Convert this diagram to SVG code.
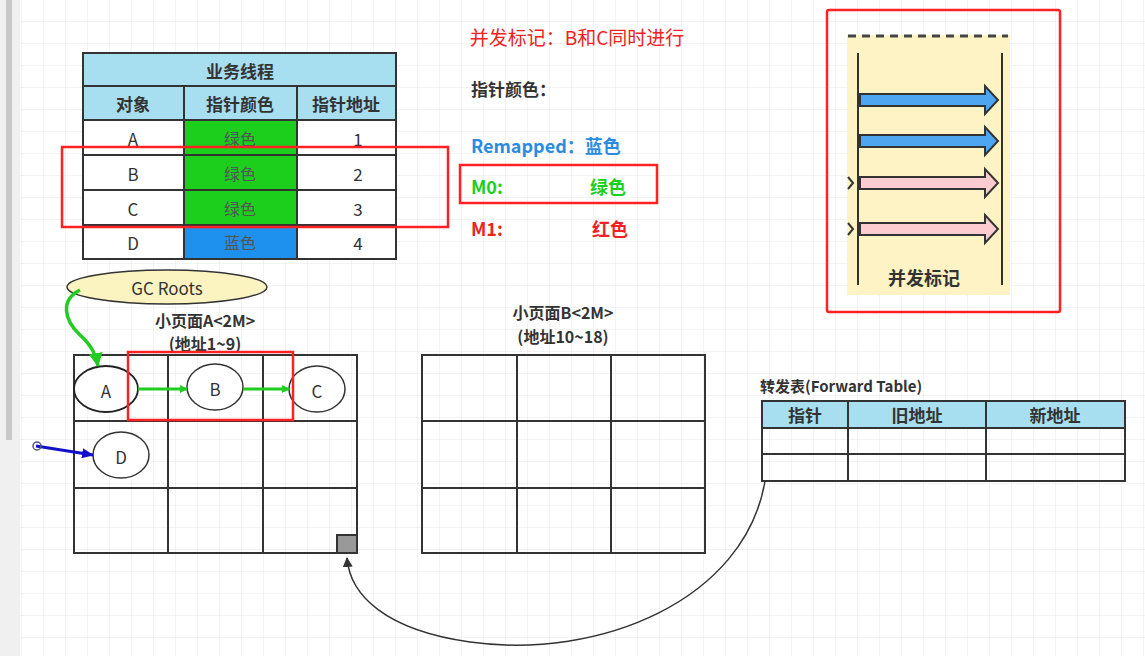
<svg xmlns="http://www.w3.org/2000/svg" width="1145" height="656" viewBox="0 0 1145 656">
<style>
text{font-family:"Noto Sans CJK SC","Noto Sans",sans-serif;}
.c{fill:#fff;stroke:#333;stroke-width:2}
.t{font-size:17px;fill:#333;text-anchor:middle;dominant-baseline:central}
.b{font-weight:bold}
.g{stroke:#333;stroke-width:2;fill:none}
.red{fill:none;stroke:#f22;stroke-width:2.5}
</style>
<defs>
<pattern id="grid" width="22" height="22" patternUnits="userSpaceOnUse"><path d="M22 0V22H0" fill="none" stroke="#e6e6e6" stroke-width="1"/></pattern>
<marker id="ag" markerWidth="8" markerHeight="8" refX="7" refY="4" orient="auto" markerUnits="userSpaceOnUse"><path d="M0 0L8 4L0 8Z" fill="#2c2"/></marker>
<marker id="ab" markerWidth="12" markerHeight="10" refX="11" refY="5" orient="auto" markerUnits="userSpaceOnUse"><path d="M0 0L12 5L0 10Z" fill="#11c"/></marker>
<marker id="ak" markerWidth="10" markerHeight="10" refX="9" refY="5" orient="auto" markerUnits="userSpaceOnUse"><path d="M0 0L10 5L0 10Z" fill="#333"/></marker>
<marker id="agr" markerWidth="14" markerHeight="14" refX="13" refY="7" orient="auto" markerUnits="userSpaceOnUse"><path d="M0 0L14 7L0 14Z" fill="#2c2"/></marker>
</defs>
<rect width="1145" height="656" fill="#fff"/>
<rect x="20" y="0" width="1125" height="656" fill="url(#grid)"/>
<rect x="0" y="0" width="20" height="656" fill="#f0f0f0"/>
<rect x="6" y="0" width="6" height="440" fill="#c8c8c8"/>

<g id="thread-table">
<rect x="83" y="53" width="313" height="33" fill="#a8dff0" stroke="#333" stroke-width="2"/>
<text x="240" y="70" class="t b">业务线程</text>
<rect x="83" y="86" width="101" height="34" fill="#a8dff0" stroke="#333" stroke-width="2"/>
<rect x="184" y="86" width="113" height="34" fill="#a8dff0" stroke="#333" stroke-width="2"/>
<rect x="297" y="86" width="99" height="34" fill="#a8dff0" stroke="#333" stroke-width="2"/>
<text x="133" y="103" class="t b">对象</text><text x="240" y="103" class="t b">指针颜色</text><text x="346" y="103" class="t b">指针地址</text>
<rect x="83" y="120" width="101" height="35" class="c"/><rect x="184" y="120" width="113" height="35" fill="#1ccf1c" stroke="#333" stroke-width="2"/><rect x="297" y="120" width="99" height="35" class="c"/>
<rect x="83" y="155" width="101" height="35" class="c"/><rect x="184" y="155" width="113" height="35" fill="#1ccf1c" stroke="#333" stroke-width="2"/><rect x="297" y="155" width="99" height="35" class="c"/>
<rect x="83" y="190" width="101" height="35" class="c"/><rect x="184" y="190" width="113" height="35" fill="#1ccf1c" stroke="#333" stroke-width="2"/><rect x="297" y="190" width="99" height="35" class="c"/>
<rect x="83" y="225" width="101" height="34" class="c"/><rect x="184" y="225" width="113" height="34" fill="#1e90ee" stroke="#333" stroke-width="2"/><rect x="297" y="225" width="99" height="34" class="c"/>
<text x="133" y="138" class="t">A</text><text x="240" y="138" class="t" style="fill:#555;font-size:16px">绿色</text><text x="358" y="138" class="t">1</text>
<text x="133" y="173" class="t">B</text><text x="240" y="173" class="t" style="fill:#555;font-size:16px">绿色</text><text x="358" y="173" class="t">2</text>
<text x="133" y="208" class="t">C</text><text x="240" y="208" class="t" style="fill:#555;font-size:16px">绿色</text><text x="358" y="208" class="t">3</text>
<text x="133" y="242" class="t">D</text><text x="240" y="242" class="t" style="fill:#555;font-size:16px">蓝色</text><text x="358" y="242" class="t">4</text>
<rect x="62" y="147" width="386" height="80" class="red"/>
</g>

<g id="legend">
<text x="577" y="36" class="t" style="fill:#e22;font-size:19px">并发标记：B和C同时进行</text>
<text x="471" y="88" style="font-size:17px;font-weight:bold;fill:#333" dominant-baseline="central">指针颜色：</text>
<text x="471" y="145" style="font-size:18px;font-weight:bold;fill:#2a8be0" dominant-baseline="central">Remapped：蓝色</text>
<text x="471" y="186" style="font-size:18px;font-weight:bold;fill:#1ccf1c" dominant-baseline="central">M0:</text>
<text x="590" y="186" style="font-size:18px;font-weight:bold;fill:#1ccf1c" dominant-baseline="central">绿色</text>
<rect x="460" y="165" width="197" height="38" class="red"/>
<text x="471" y="228" style="font-size:18px;font-weight:bold;fill:#e22" dominant-baseline="central">M1:</text>
<text x="592" y="228" style="font-size:18px;font-weight:bold;fill:#e22" dominant-baseline="central">红色</text>
</g>

<g id="concurrent-mark">
<rect x="847" y="35" width="163" height="260" fill="#fdf3c4"/>
<line x1="848" y1="36" x2="1008" y2="36" stroke="#444" stroke-width="3" stroke-dasharray="8,6"/>
<line x1="858" y1="53" x2="858" y2="285" stroke="#333" stroke-width="2"/>
<line x1="1002" y1="53" x2="1002" y2="285" stroke="#333" stroke-width="2"/>
<path d="M860 94H985V86L998 100L985 114V106H860Z" fill="#4ea6f0" stroke="#333" stroke-width="2"/>
<path d="M860 135H985V127L998 141L985 155V147H860Z" fill="#4ea6f0" stroke="#333" stroke-width="2"/>
<path d="M860 177H985V169L998 183L985 197V189H860Z" fill="#fcccd0" stroke="#333" stroke-width="2"/>
<path d="M860 223H985V215L998 229L985 243V235H860Z" fill="#fcccd0" stroke="#333" stroke-width="2"/>
<path d="M848 177L853 183L848 189" fill="none" stroke="#333" stroke-width="2"/>
<path d="M848 223L853 229L848 235" fill="none" stroke="#333" stroke-width="2"/>
<text x="924" y="277" class="t b" style="font-size:18px">并发标记</text>
<rect x="827" y="10" width="233" height="302" class="red" rx="2"/>
</g>

<g id="gc-roots">
<ellipse cx="167" cy="287" rx="100" ry="17" fill="#fbf4c0" stroke="#333" stroke-width="1.5"/>
<text x="167" y="287" class="t">GC Roots</text>
</g>

<g id="page-a">
<text x="205" y="320" class="t b" style="font-size:16px">小页面A&lt;2M&gt;</text>
<text x="205" y="343" class="t b" style="font-size:16px">(地址1~9)</text>
<rect x="74" y="355" width="283" height="198" class="g"/>
<path d="M168 355V553M263 355V553M74 421H357M74 488H357" class="g"/>
<rect x="337" y="535" width="20" height="18" fill="#999" stroke="#333" stroke-width="2"/>
</g>
<g id="node-a"><ellipse cx="106" cy="389" rx="32" ry="23" fill="#fff" stroke="#222" stroke-width="1.8"/><text x="106" y="390" class="t">A</text></g>
<g id="node-b"><ellipse cx="215" cy="387" rx="28" ry="23" fill="#fff" stroke="#333" stroke-width="1.5"/><text x="215" y="388" class="t">B</text></g>
<g id="node-c"><ellipse cx="317" cy="389" rx="28" ry="23" fill="#fff" stroke="#333" stroke-width="1.5"/><text x="317" y="390" class="t">C</text></g>
<g id="node-d"><ellipse cx="121" cy="455" rx="28" ry="23" fill="#fff" stroke="#333" stroke-width="1.5"/><text x="121" y="456" class="t">D</text></g>
<rect x="128" y="352" width="165" height="68" class="red"/>

<g id="page-b">
<text x="563" y="312" class="t b" style="font-size:16px">小页面B&lt;2M&gt;</text>
<text x="563" y="336" class="t b" style="font-size:16px">(地址10~18)</text>
<rect x="422" y="355" width="283" height="198" class="g"/>
<path d="M517 355V553M611 355V553M422 421H705M422 488H705" class="g"/>
</g>

<g id="forward-table">
<text x="760" y="385" style="font-size:15px;font-weight:bold;fill:#333" dominant-baseline="central">转发表(Forward Table)</text>
<rect x="762" y="401" width="363" height="27" fill="#a8dff0" stroke="#333" stroke-width="2"/>
<text x="805" y="414" class="t b">指针</text><text x="917" y="414" class="t b">旧地址</text><text x="1055" y="414" class="t b">新地址</text>
<rect x="762" y="428" width="363" height="53" class="g"/>
<path d="M848 401V481M986 401V481M762 454H1125" class="g"/>
</g>

<g id="connectors">
<path d="M80 290C60 300 64 320 80 335C92 346 96 355 98 366" fill="none" stroke="#2c2" stroke-width="3.5" marker-end="url(#agr)"/>
<line x1="138" y1="389" x2="187" y2="389" stroke="#2c2" stroke-width="3" marker-end="url(#ag)"/>
<line x1="243" y1="389" x2="289" y2="389" stroke="#2c2" stroke-width="3" marker-end="url(#ag)"/>
<line x1="36" y1="446" x2="93" y2="455" stroke="#11c" stroke-width="3" marker-end="url(#ab)"/>
<path d="M765 481C745 600 600 660 470 642C385 630 350 595 347 558" fill="none" stroke="#333" stroke-width="1.5" marker-end="url(#ak)"/>
</g>
<g id="cursor"><circle cx="37" cy="446" r="4" fill="none" stroke="#557" stroke-width="1.5"/></g>
</svg>
